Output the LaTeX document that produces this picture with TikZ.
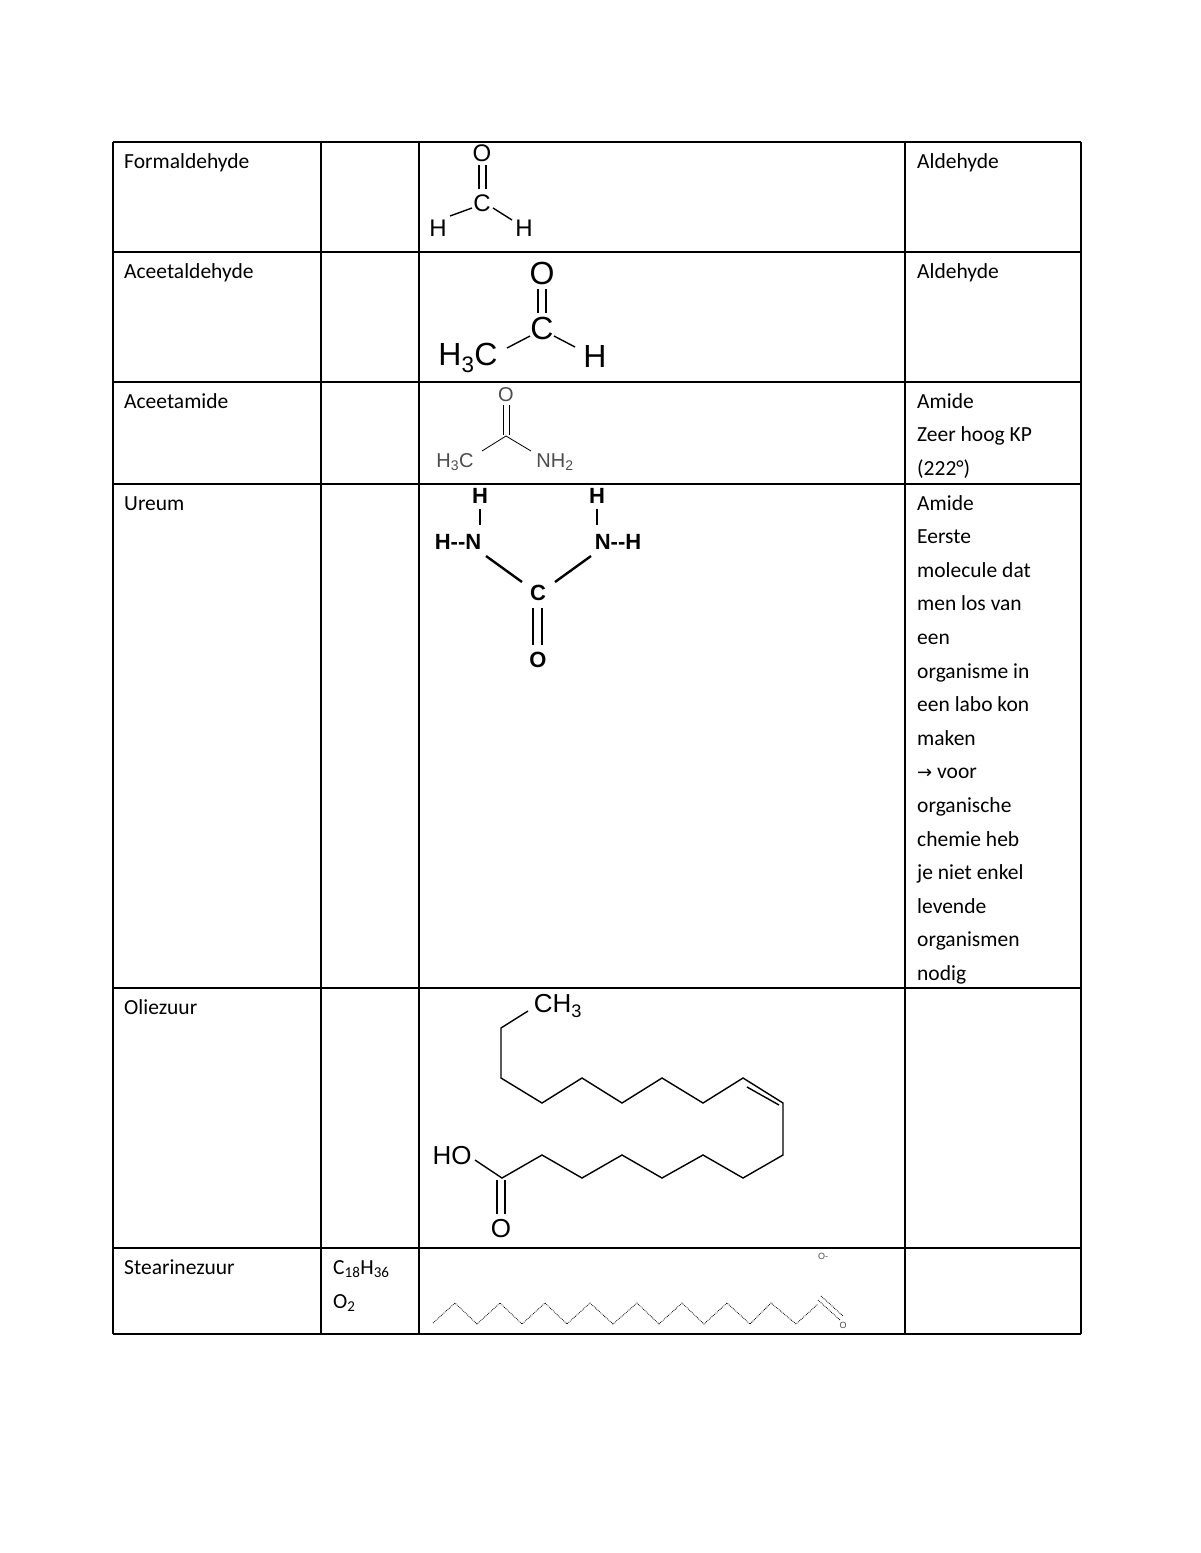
\documentclass[tikz,border=0pt]{standalone}
\usepackage{fontspec}
\setmainfont{Carlito}
\newfontfamily\molf{Liberation Sans}
\newfontfamily\arrf{DejaVu Sans}
\begin{document}
\begin{tikzpicture}[x=1pt,y=-1pt,
  txt/.style={anchor=base west,inner sep=0,font=\fontsize{21.5}{33.6}\selectfont},
  grid/.style={line width=2pt},
  bond/.style={line width=1.4pt},
  atom/.style={inner sep=0,font=\molf\fontsize{24}{24}\selectfont},
  batom/.style={inner sep=0,font=\molf\bfseries\fontsize{22}{22}\selectfont},
  gatom/.style={inner sep=0,text=black!70,font=\molf\fontsize{20}{20}\selectfont},
  thin/.style={line width=0.8pt}]
\useasboundingbox (0,0) rectangle (1200,1553);
% grid
\foreach \y in {142,252,382,484,988,1248,1334} \draw[grid] (113,\y) -- (1081,\y);
\foreach \x in {113,321,419,905,1081} \draw[grid] (\x,142) -- (\x,1334);
% first column
\node[txt] (n1) at (124,168) {Formaldehyde};
\node[txt] (n2) at (124,278) {Aceetaldehyde};
\node[txt] (n3) at (124,408) {Aceetamide};
\node[txt] (n4) at (124,510) {Ureum};
\node[txt] (n5) at (124,1014) {Oliezuur};
\node[txt] (n6) at (124,1274) {Stearinezuur};
\node[txt] (f1) at (333,1274) {C\textsubscript{18}H\textsubscript{36}};
\node[txt] (f2) at (333,1308) {O\textsubscript{2}};
% last column
\node[txt] (c1) at (917,168) {Aldehyde};
\node[txt] (c2) at (917,278) {Aldehyde};
\foreach \t [count=\i from 0] in {Amide,Zeer hoog KP,(222°)}
  \node[txt] (a\i) at (917,408+33.6*\i) {\t};
\foreach \t [count=\i from 0] in {Amide,Eerste,molecule dat,men los van,een,organisme in,een labo kon,maken,{{\arrf\fontsize{18}{18}\selectfont →} voor},organische,chemie heb,je niet enkel,levende,organismen,nodig}
  \node[txt] (u\i) at (917,510+33.6*\i) {\t};
% formaldehyde
\node[atom] (fO) at (482,153) {O};
\node[atom] (fC) at (482,203) {C};
\node[atom] (fH1) at (438,228) {H};
\node[atom] (fH2) at (524,228) {H};
\draw[bond] (479,165) -- (479,189) (486,165) -- (486,189);
\draw[bond] (450,216) -- (472,208) (493,208) -- (512,220);
% acetaldehyde
\node[atom,font=\molf\fontsize{32}{32}\selectfont] (aO) at (542,273) {O};
\node[atom,font=\molf\fontsize{32}{32}\selectfont] (aC) at (542,328) {C};
\node[atom,font=\molf\fontsize{32}{32}\selectfont] (aM) at (468,358) {H\textsubscript{3}C};
\node[atom,font=\molf\fontsize{32}{32}\selectfont] (aH) at (595,356) {H};
\draw[bond] (538,289) -- (538,313) (546,289) -- (546,313);
\draw[bond] (507,348) -- (530,336) (554,336) -- (575,347);
% acetamide
\node[gatom] (mO) at (506,395) {O};
\node[gatom] (mM) at (455,462) {H\textsubscript{3}C};
\node[gatom] (mN) at (555,462) {NH\textsubscript{2}};
\draw[thin] (503,405) -- (503,435) (509,405) -- (509,435);
\draw[thin] (482,451) -- (506,436) -- (531,451);
% urea
\node[batom] (uH1) at (480,496) {H};
\node[batom] (uH2) at (597,496) {H};
\node[batom] (uN1) at (458,542) {H--N};
\node[batom] (uN2) at (618,542) {N--H};
\node[batom] (uC) at (538,593) {C};
\node[batom] (uO) at (538,660) {O};
\draw[line width=2.4pt] (480,509) -- (480,525) (597,509) -- (597,525);
\draw[line width=2.4pt] (486,556) -- (522,582) (591,556) -- (555,582);
\draw[line width=2.4pt] (533,608) -- (533,645) (542,608) -- (542,645);
% oleic acid
\node[atom,font=\molf\fontsize{26}{26}\selectfont] (oM) at (558,1006) {CH\textsubscript{3}};
\node[atom,font=\molf\fontsize{26}{26}\selectfont] (oHO) at (452,1156) {HO};
\node[atom,font=\molf\fontsize{26}{26}\selectfont] (oO) at (501,1229) {O};
\draw[bond,line join=miter] (528,1011) -- (501,1028) -- (501,1078) -- (542,1103) -- (582,1078) -- (622,1103) -- (662,1078) -- (703,1103) -- (743,1078) -- (783,1103) -- (783,1155) -- (743,1178) -- (703,1155) -- (662,1178) -- (622,1155) -- (582,1178) -- (542,1155) -- (502,1178) -- (475,1160);
\draw[bond] (747,1087) -- (779,1105);
\draw[bond] (497,1180) -- (497,1214) (505,1180) -- (505,1214);
% stearic acid
\draw[thin,densely dotted] (433,1323) -- (455,1303) -- (477,1324) -- (500,1303) -- (522,1324) -- (545,1303) -- (567,1324) -- (590,1303) -- (613,1324) -- (637,1303) -- (659,1324) -- (682,1303) -- (704,1324) -- (727,1303) -- (750,1324) -- (771,1303) -- (796,1324) -- (818,1304);
\draw[thin,densely dotted] (818,1300) -- (840,1320) (821,1296) -- (843,1316);
\node[inner sep=0,font=\molf\fontsize{9}{9}\selectfont,text=black!70] (sO) at (843,1325) {O};
\node[inner sep=0,font=\molf\fontsize{9}{9}\selectfont,text=black!70] (sOm) at (823,1256) {O-};
\end{tikzpicture}
\end{document}
